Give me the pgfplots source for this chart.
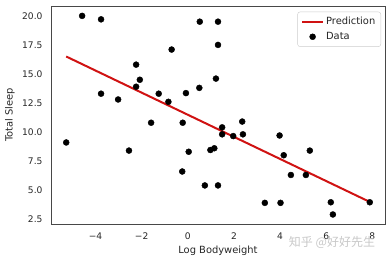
\documentclass[border=0pt]{standalone}
\usepackage{fontspec}
\setmainfont{DejaVu Sans}
\newfontfamily\cjk{Noto Sans CJK SC}
\usepackage{pgfplots}
\pgfplotsset{compat=1.18}
\definecolor{axgray}{RGB}{38,38,38}
\definecolor{framegray}{RGB}{72,72,72}
\definecolor{predred}{RGB}{208,18,18}
\definecolor{legframe}{RGB}{204,204,204}
\definecolor{wmgray}{RGB}{200,200,200}
\begin{document}
\begin{tikzpicture}
\path[use as bounding box] (-51pt,-38pt) rectangle (341pt,224pt);
\begin{axis}[
  at={(0pt,0pt)}, anchor=south west,
  scale only axis, width=334pt, height=218pt,
  xmin=-5.93, xmax=8.55, ymin=2.08, ymax=20.85,
  axis line style={draw=framegray, line width=0.9pt},
  major tick length=0pt,
  xtick={-4,-2,0,2,4,6,8},
  xticklabels={−4,−2,0,2,4,6,8},
  ytick={2.5,5,7.5,10,12.5,15,17.5,20},
  yticklabels={2.5,5.0,7.5,10.0,12.5,15.0,17.5,20.0},
  tick label style={font=\fontsize{9.1}{10}\selectfont, text=axgray},
  xticklabel style={yshift=-5pt},
  yticklabel style={xshift=-5pt},
  xlabel={Log Bodyweight}, ylabel={Total Sleep},
  label style={font=\fontsize{9.9}{11}\selectfont, text=axgray},
  xlabel style={at={(axis description cs:0.5,-0.1225)}, anchor=center},
  ylabel style={at={(axis description cs:-0.1228,0.5)}, anchor=center},
  legend style={at={(1,1)}, anchor=north east, xshift=-4pt, yshift=-5.7pt,
    draw=legframe, rounded corners=2.5pt, fill=white,
    font=\fontsize{9.9}{11}\selectfont, text=axgray,
    inner xsep=3.5pt, inner ysep=3.5pt, row sep=2pt},
  legend cell align=left,
  reverse legend,
  legend image code/.code={\draw[mark repeat=2,mark phase=2,#1] plot coordinates {(0pt,0pt) (10.5pt,0pt) (21pt,0pt)};},
]
\addplot[only marks, mark=*, mark size=3pt, black] coordinates {
(-5.27,9.1) (-4.58,20.0) (-3.76,19.7) (-3.76,13.3) (-3.02,12.8)
(-2.55,8.4) (-2.24,15.8) (-2.08,14.5) (-2.24,13.9) (-1.59,10.8)
(-1.26,13.3) (-0.84,12.6) (-0.70,17.1) (-0.22,10.8) (-0.24,6.6)
(-0.08,13.35) (0.04,8.3) (0.52,19.5) (0.50,13.8) (1.31,19.5)
(1.31,17.5) (1.22,14.6) (0.74,5.4) (1.31,5.4) (0.98,8.45)
(1.15,8.6) (1.49,10.4) (1.49,9.8) (1.97,9.65) (2.36,10.9)
(2.39,9.8) (3.34,3.9) (4.02,3.9) (3.98,9.7) (4.16,8.0)
(4.47,6.3) (5.12,6.3) (5.29,8.4) (6.20,3.95) (6.29,2.9)
(7.89,3.95)
};
\addlegendentry{Data}
\addplot[predred, line width=2pt] coordinates {(-5.27,16.50) (7.89,3.98)};
\addlegendentry{Prediction}
\end{axis}
\node[font=\cjk\fontsize{12}{12}\selectfont, text=wmgray] at (281pt,-18pt) {知乎 @好好先生};
\end{tikzpicture}
\end{document}
